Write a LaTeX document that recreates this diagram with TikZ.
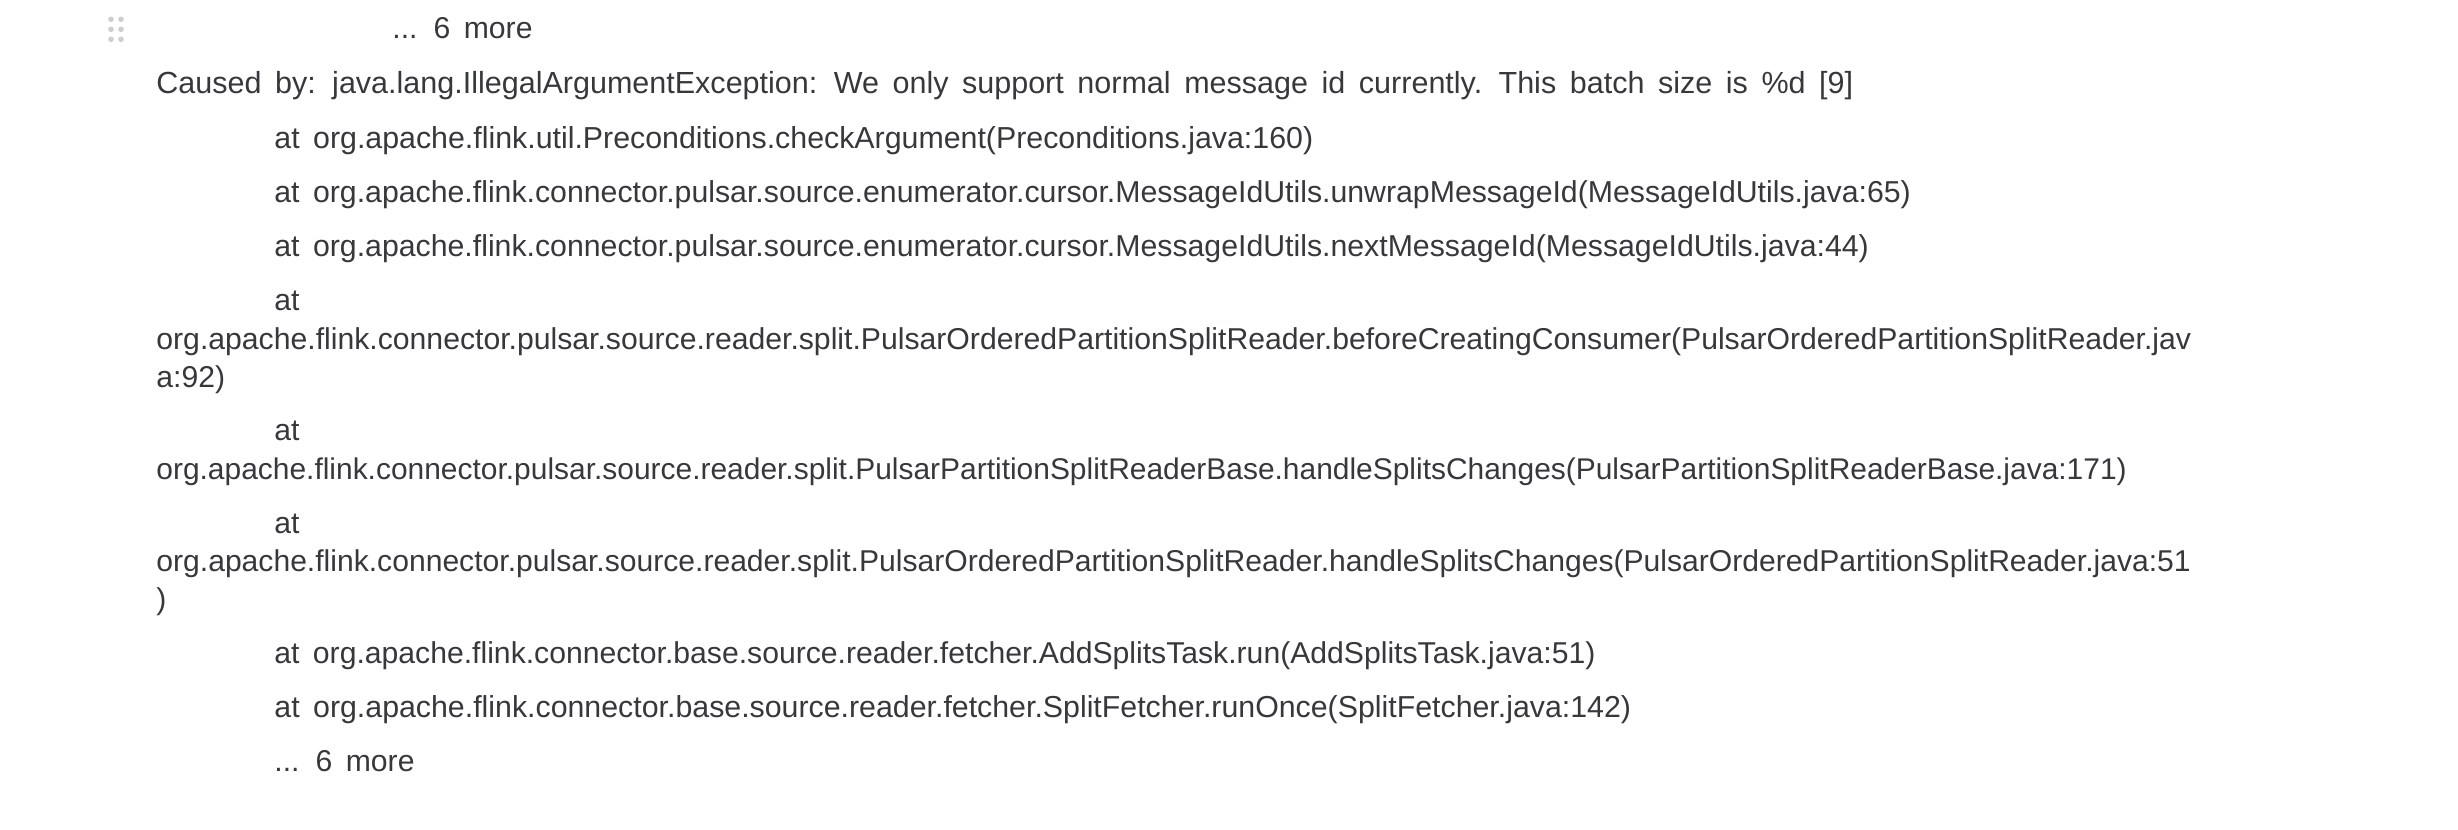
\documentclass[tikz,border=0pt]{standalone}
\usepackage{fontspec}
\setmainfont[WordSpace=1.6]{Liberation Sans}
\definecolor{logtext}{HTML}{37383B}
\definecolor{gripdot}{HTML}{CDCED2}
\tikzset{
  logline/.style={anchor=base west, inner sep=0pt, text=logtext, font=\fontsize{#1}{17}\selectfont},
  logline/.default=15.07,
  griphole/.style={circle, fill=gripdot, inner sep=0pt, minimum size=2.8pt}
}
\begin{document}
\begin{tikzpicture}[x=0.5pt,y=-0.5pt]
\useasboundingbox (0,0) rectangle (2458,830);
% handle
\node (gripa) [griphole] at (111,19.3) {};
\node (gripb) [griphole] at (121,19.3) {};
\node (gripc) [griphole] at (111,29.3) {};
\node (gripd) [griphole] at (121,29.3) {};
\node (gripe) [griphole] at (111,39.3) {};
\node (gripf) [griphole] at (121,39.3) {};
% log lines
\node (more) [logline] at (392,39) {... 6 more};
\node (caused) [logline=15.26] at (156,93.5) {Caused by: java.lang.IllegalArgumentException: We only support normal message id currently. This batch size is \%d [9]};
\node (check) [logline=15.17] at (274,148.5) {at org.apache.flink.util.Preconditions.checkArgument(Preconditions.java:160)};
\node (unwrap) [logline=15.13] at (274,202.5) {at org.apache.flink.connector.pulsar.source.enumerator.cursor.MessageIdUtils.unwrapMessageId(MessageIdUtils.java:65)};
\node (next) [logline=15.13] at (274,256.5) {at org.apache.flink.connector.pulsar.source.enumerator.cursor.MessageIdUtils.nextMessageId(MessageIdUtils.java:44)};
\node (ata) [logline] at (274,310.5) {at};
\node (before) [logline=15.09] at (156,349.5) {org.apache.flink.connector.pulsar.source.reader.split.PulsarOrderedPartitionSplitReader.beforeCreatingConsumer(PulsarOrderedPartitionSplitReader.jav};
\node (beforeend) [logline] at (156,387.5) {a:92)};
\node (atb) [logline] at (274,440.5) {at};
\node (base) [logline=14.97] at (156,479.5) {org.apache.flink.connector.pulsar.source.reader.split.PulsarPartitionSplitReaderBase.handleSplitsChanges(PulsarPartitionSplitReaderBase.java:171)};
\node (atc) [logline] at (274,533.5) {at};
\node (ordered) [logline=15.05] at (156,571.5) {org.apache.flink.connector.pulsar.source.reader.split.PulsarOrderedPartitionSplitReader.handleSplitsChanges(PulsarOrderedPartitionSplitReader.java:51};
\node (orderedend) [logline] at (156,609.5) {)};
\node (task) [logline=15.08] at (274,663.5) {at org.apache.flink.connector.base.source.reader.fetcher.AddSplitsTask.run(AddSplitsTask.java:51)};
\node (fetcher) [logline=15.16] at (274,717.5) {at org.apache.flink.connector.base.source.reader.fetcher.SplitFetcher.runOnce(SplitFetcher.java:142)};
\node (moreb) [logline] at (274,771) {... 6 more};
\end{tikzpicture}
\end{document}
